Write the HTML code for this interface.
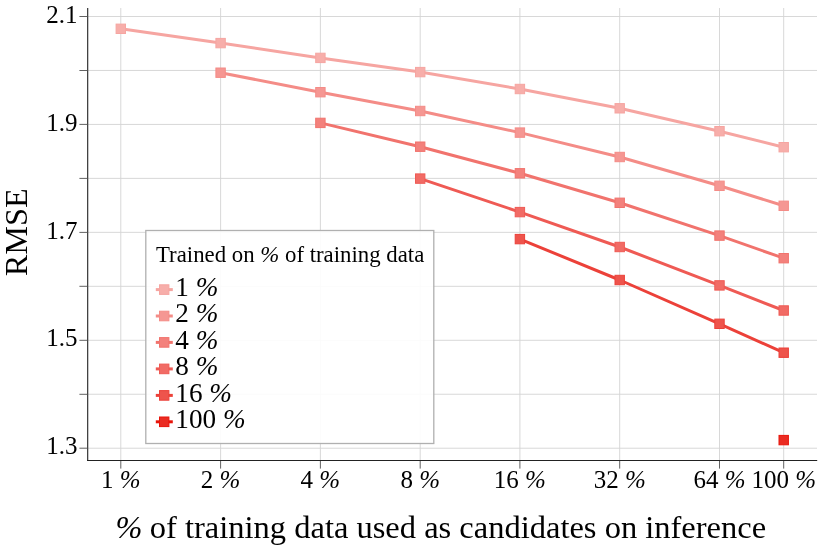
<!DOCTYPE html>
<html><head><meta charset="utf-8"><title>RMSE chart</title>
<style>
html,body{margin:0;padding:0;background:#fff;}
svg{display:block;font-family:"Liberation Serif","Times New Roman",serif;}
text{fill:#000;}
.i{font-style:italic;}
</style></head><body>
<svg width="823" height="552" viewBox="0 0 823 552">
<rect width="823" height="552" fill="#fff"/>

<g stroke="#d4d4d4" stroke-width="0.9" fill="none">
<line x1="120.8" y1="8" x2="120.8" y2="460"/>
<line x1="220.6" y1="8" x2="220.6" y2="460"/>
<line x1="320.4" y1="8" x2="320.4" y2="460"/>
<line x1="420.2" y1="8" x2="420.2" y2="460"/>
<line x1="519.9" y1="8" x2="519.9" y2="460"/>
<line x1="619.7" y1="8" x2="619.7" y2="460"/>
<line x1="719.5" y1="8" x2="719.5" y2="460"/>
<line x1="783.7" y1="8" x2="783.7" y2="460"/>
<line x1="88" y1="448.23" x2="817" y2="448.23"/>
<line x1="88" y1="394.26" x2="817" y2="394.26"/>
<line x1="88" y1="340.30" x2="817" y2="340.30"/>
<line x1="88" y1="286.33" x2="817" y2="286.33"/>
<line x1="88" y1="232.36" x2="817" y2="232.36"/>
<line x1="88" y1="178.40" x2="817" y2="178.40"/>
<line x1="88" y1="124.43" x2="817" y2="124.43"/>
<line x1="88" y1="70.47" x2="817" y2="70.47"/>
<line x1="88" y1="16.50" x2="817" y2="16.50"/>
</g>
<g stroke="#222" stroke-width="1.1" fill="none">
<line x1="87.7" y1="8" x2="87.7" y2="461"/>
<line x1="87.1" y1="460.5" x2="817.2" y2="460.5"/>
</g>
<g stroke="#505050" stroke-width="0.9" fill="none">
<line x1="120.8" y1="461" x2="120.8" y2="468.6"/>
<line x1="220.6" y1="461" x2="220.6" y2="468.6"/>
<line x1="320.4" y1="461" x2="320.4" y2="468.6"/>
<line x1="420.2" y1="461" x2="420.2" y2="468.6"/>
<line x1="519.9" y1="461" x2="519.9" y2="468.6"/>
<line x1="619.7" y1="461" x2="619.7" y2="468.6"/>
<line x1="719.5" y1="461" x2="719.5" y2="468.6"/>
<line x1="783.7" y1="461" x2="783.7" y2="468.6"/>
<line x1="79.4" y1="448.2" x2="87.7" y2="448.2"/>
<line x1="79.4" y1="394.3" x2="87.7" y2="394.3"/>
<line x1="79.4" y1="340.3" x2="87.7" y2="340.3"/>
<line x1="79.4" y1="286.3" x2="87.7" y2="286.3"/>
<line x1="79.4" y1="232.4" x2="87.7" y2="232.4"/>
<line x1="79.4" y1="178.4" x2="87.7" y2="178.4"/>
<line x1="79.4" y1="124.4" x2="87.7" y2="124.4"/>
<line x1="79.4" y1="70.5" x2="87.7" y2="70.5"/>
<line x1="79.4" y1="16.5" x2="87.7" y2="16.5"/>
</g>
<g stroke="#F6A5A1" fill="#F7AEAA">
<polyline points="120.8,28.8 220.6,43.1 320.4,57.9 420.2,72.1 519.9,89.0 619.7,108.3 719.5,131.2 783.7,147.2" fill="none" stroke-width="3" stroke-linejoin="round"/>
<rect x="116.1" y="24.1" width="9.4" height="9.4" stroke-width="1"/>
<rect x="215.9" y="38.4" width="9.4" height="9.4" stroke-width="1"/>
<rect x="315.7" y="53.2" width="9.4" height="9.4" stroke-width="1"/>
<rect x="415.5" y="67.4" width="9.4" height="9.4" stroke-width="1"/>
<rect x="515.2" y="84.3" width="9.4" height="9.4" stroke-width="1"/>
<rect x="615.0" y="103.6" width="9.4" height="9.4" stroke-width="1"/>
<rect x="714.8" y="126.5" width="9.4" height="9.4" stroke-width="1"/>
<rect x="779.0" y="142.5" width="9.4" height="9.4" stroke-width="1"/>
</g>
<g stroke="#F48C87" fill="#F59793">
<polyline points="220.6,72.7 320.4,92.2 420.2,111.0 519.9,132.6 619.7,157.0 719.5,185.8 783.7,205.8" fill="none" stroke-width="3" stroke-linejoin="round"/>
<rect x="215.9" y="68.0" width="9.4" height="9.4" stroke-width="1"/>
<rect x="315.7" y="87.5" width="9.4" height="9.4" stroke-width="1"/>
<rect x="415.5" y="106.3" width="9.4" height="9.4" stroke-width="1"/>
<rect x="515.2" y="127.9" width="9.4" height="9.4" stroke-width="1"/>
<rect x="615.0" y="152.3" width="9.4" height="9.4" stroke-width="1"/>
<rect x="714.8" y="181.1" width="9.4" height="9.4" stroke-width="1"/>
<rect x="779.0" y="201.1" width="9.4" height="9.4" stroke-width="1"/>
</g>
<g stroke="#F1736D" fill="#F3817C">
<polyline points="320.4,122.9 420.2,146.7 519.9,173.3 619.7,202.8 719.5,235.6 783.7,258.2" fill="none" stroke-width="3" stroke-linejoin="round"/>
<rect x="315.7" y="118.2" width="9.4" height="9.4" stroke-width="1"/>
<rect x="415.5" y="142.0" width="9.4" height="9.4" stroke-width="1"/>
<rect x="515.2" y="168.6" width="9.4" height="9.4" stroke-width="1"/>
<rect x="615.0" y="198.1" width="9.4" height="9.4" stroke-width="1"/>
<rect x="714.8" y="230.9" width="9.4" height="9.4" stroke-width="1"/>
<rect x="779.0" y="253.5" width="9.4" height="9.4" stroke-width="1"/>
</g>
<g stroke="#EF5A54" fill="#F16B65">
<polyline points="420.2,178.6 519.9,212.1 619.7,247.0 719.5,285.4 783.7,310.5" fill="none" stroke-width="3" stroke-linejoin="round"/>
<rect x="415.5" y="173.9" width="9.4" height="9.4" stroke-width="1"/>
<rect x="515.2" y="207.4" width="9.4" height="9.4" stroke-width="1"/>
<rect x="615.0" y="242.3" width="9.4" height="9.4" stroke-width="1"/>
<rect x="714.8" y="280.7" width="9.4" height="9.4" stroke-width="1"/>
<rect x="779.0" y="305.8" width="9.4" height="9.4" stroke-width="1"/>
</g>
<g stroke="#EC4139" fill="#EE544C">
<polyline points="519.9,239.1 619.7,280.0 719.5,323.8 783.7,352.7" fill="none" stroke-width="3" stroke-linejoin="round"/>
<rect x="515.2" y="234.4" width="9.4" height="9.4" stroke-width="1"/>
<rect x="615.0" y="275.3" width="9.4" height="9.4" stroke-width="1"/>
<rect x="714.8" y="319.1" width="9.4" height="9.4" stroke-width="1"/>
<rect x="779.0" y="348.0" width="9.4" height="9.4" stroke-width="1"/>
</g>
<g stroke="#E8140A" fill="#EA2C22">
<rect x="779.0" y="435.4" width="9.4" height="9.4" stroke-width="1"/>
</g>
<rect x="145.8" y="230.5" width="288" height="213" fill="#fff" fill-opacity="0.9" stroke="#b0b0b0" stroke-width="1.3"/>
<text x="156" y="262.2" font-size="22.8">Trained on <tspan class="i">%</tspan> of training data</text>
<line x1="155.8" y1="289.6" x2="172.8" y2="289.6" stroke="#F6A5A1" stroke-width="3"/>
<rect x="159.5" y="284.8" width="9.4" height="9.6" fill="#F7AEAA" stroke="#F6A5A1" stroke-width="1"/>
<text x="175.3" y="295.7" font-size="27.2">1 <tspan class="i">%</tspan></text>
<line x1="155.8" y1="316.0" x2="172.8" y2="316.0" stroke="#F48C87" stroke-width="3"/>
<rect x="159.5" y="311.2" width="9.4" height="9.6" fill="#F59793" stroke="#F48C87" stroke-width="1"/>
<text x="175.3" y="322.1" font-size="27.2">2 <tspan class="i">%</tspan></text>
<line x1="155.8" y1="342.4" x2="172.8" y2="342.4" stroke="#F1736D" stroke-width="3"/>
<rect x="159.5" y="337.6" width="9.4" height="9.6" fill="#F3817C" stroke="#F1736D" stroke-width="1"/>
<text x="175.3" y="348.6" font-size="27.2">4 <tspan class="i">%</tspan></text>
<line x1="155.8" y1="368.9" x2="172.8" y2="368.9" stroke="#EF5A54" stroke-width="3"/>
<rect x="159.5" y="364.1" width="9.4" height="9.6" fill="#F16B65" stroke="#EF5A54" stroke-width="1"/>
<text x="175.3" y="375.0" font-size="27.2">8 <tspan class="i">%</tspan></text>
<line x1="155.8" y1="395.4" x2="172.8" y2="395.4" stroke="#EC4139" stroke-width="3"/>
<rect x="159.5" y="390.6" width="9.4" height="9.6" fill="#EE544C" stroke="#EC4139" stroke-width="1"/>
<text x="175.3" y="401.5" font-size="27.2">16 <tspan class="i">%</tspan></text>
<line x1="155.8" y1="421.8" x2="172.8" y2="421.8" stroke="#E8140A" stroke-width="3"/>
<rect x="159.5" y="417.0" width="9.4" height="9.6" fill="#EA2C22" stroke="#E8140A" stroke-width="1"/>
<text x="175.3" y="427.9" font-size="27.2">100 <tspan class="i">%</tspan></text>
<text x="77.4" y="454.3" font-size="25" text-anchor="end">1.3</text>
<text x="77.4" y="346.4" font-size="25" text-anchor="end">1.5</text>
<text x="77.4" y="238.5" font-size="25" text-anchor="end">1.7</text>
<text x="77.4" y="130.5" font-size="25" text-anchor="end">1.9</text>
<text x="77.4" y="22.6" font-size="25" text-anchor="end">2.1</text>
<text x="120.8" y="488.4" font-size="25" text-anchor="middle">1 <tspan class="i">%</tspan></text>
<text x="220.6" y="488.4" font-size="25" text-anchor="middle">2 <tspan class="i">%</tspan></text>
<text x="320.4" y="488.4" font-size="25" text-anchor="middle">4 <tspan class="i">%</tspan></text>
<text x="420.2" y="488.4" font-size="25" text-anchor="middle">8 <tspan class="i">%</tspan></text>
<text x="519.9" y="488.4" font-size="25" text-anchor="middle">16 <tspan class="i">%</tspan></text>
<text x="619.7" y="488.4" font-size="25" text-anchor="middle">32 <tspan class="i">%</tspan></text>
<text x="719.5" y="488.4" font-size="25" text-anchor="middle">64 <tspan class="i">%</tspan></text>
<text x="783.7" y="488.4" font-size="25" text-anchor="middle">100 <tspan class="i">%</tspan></text>
<text x="115.6" y="538" font-size="32.3" class="i">%</text>
<text x="149.8" y="538" font-size="32.5">of training data used as candidates on inference</text>
<text transform="translate(27.3,232.2) rotate(-90)" font-size="32.3" text-anchor="middle">RMSE</text>
</svg></body></html>
